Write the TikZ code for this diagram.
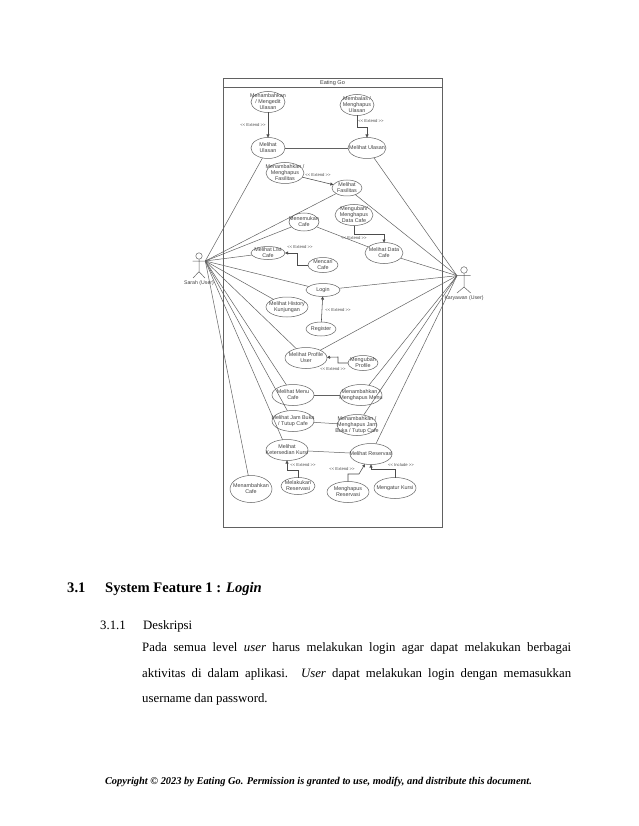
\documentclass[tikz,border=0pt]{standalone}
\usepackage{fontspec}
\setmainfont{Liberation Serif}
\newfontfamily\diagfont{Liberation Sans}
\usetikzlibrary{shapes.geometric,arrows.meta}
\definecolor{dline}{gray}{0.38}
\newcommand{\ctext}[1]{\smash{\makebox[0pt]{\raisebox{-1.4pt}{\begin{tabular}[c]{@{}c@{}}#1\end{tabular}}}}}
\newcommand{\ucase}[6]{\node[ucnode,minimum width=#4*2pt,minimum height=#5*2pt] (#1) at (#2,#3) {\ctext{#6}};}
\tikzset{
  ucnode/.style={ellipse,draw=dline,line width=0.5pt,inner sep=0pt,outer sep=0pt,text=black!75,font=\diagfont\fontsize{5.4}{6.3}\selectfont},
  assoc/.style={draw=dline,line width=0.5pt},
  dep/.style={draw=black!70,line width=0.55pt,-{Triangle[length=3pt,width=3pt]}},
  deplabel/.style={font=\diagfont\fontsize{4.2}{5}\selectfont,text=black!70,inner sep=0pt},
  actorlabel/.style={font=\diagfont\fontsize{5.2}{6}\selectfont,text=black!75,inner sep=0pt},
  actorline/.style={draw=dline,line width=0.5pt},
  bodytext/.style={inner sep=0pt,anchor=base west}
}
\begin{document}
\begin{tikzpicture}[x=1pt,y=-1pt]
\useasboundingbox (0,0) rectangle (638,826);
\fill[white] (0,0) rectangle (638,826);
% frame
\node[draw=dline,line width=0.6pt,minimum width=218.8pt,minimum height=449pt,inner sep=0pt,anchor=north west] (frame) at (223.2,78) {};
\coordinate (titleL) at (223.2,87);
\coordinate (titleR) at (442,87);
\draw[dline,line width=0.5pt] (titleL) -- (titleR);
\node[font=\diagfont\fontsize{5.6}{6.5}\selectfont,text=black!75,inner sep=0pt] (title) at (332.5,83) {Eating Go};
% use cases
\ucase{tulasan}{268}{102}{17}{10.5}{Menambahkan\\/ Mengedit\\Ulasan}
\ucase{bulasan}{357}{105}{17}{10.5}{Membalas /\\Menghapus\\Ulasan}
\ucase{ulasanL}{268}{148}{17}{10.5}{Melihat\\Ulasan}
\ucase{ulasanR}{367}{148}{19}{10.5}{Melihat Ulasan}
\ucase{tfasil}{285}{173}{19}{10.5}{Menambahkan /\\Menghapus\\Fasilitas}
\ucase{fasil}{347}{188}{15}{8}{Melihat\\Fasilitas}
\ucase{udata}{354}{215}{19}{10.5}{Mengubah/\\Menghapus\\Data Cafe}
\ucase{temu}{304}{222}{15}{9}{Menemukan\\Cafe}
\ucase{data}{384}{253}{19}{10.5}{Melihat Data\\Cafe}
\ucase{list}{268}{253}{17}{6.5}{Melihat List\\Cafe}
\ucase{cari}{323}{265}{15}{7.5}{Mencari\\Cafe}
\ucase{login}{323}{290}{17}{6.5}{Login}
\ucase{history}{287}{307}{21}{10}{Melihat History\\Kunjungan}
\ucase{register}{321}{329}{15}{7}{Register}
\ucase{profile}{306}{358}{21}{10.5}{Melihat Profile\\User}
\ucase{uprofile}{363}{363}{15}{7.5}{Mengubah\\Profile}
\ucase{menu}{293}{395}{21}{10.5}{Melihat Menu\\Cafe}
\ucase{tmenu}{361}{395}{21}{10.5}{Menambahkan /\\Menghapus Menu}
\ucase{jam}{293}{421}{21}{10.5}{Melihat Jam Buka\\/ Tutup Cafe}
\ucase{tjam}{357}{425}{20}{10.5}{Menambahkan /\\Menghapus Jam\\Buka / Tutup Cafe}
\ucase{kursi}{287}{450}{21}{10.5}{Melihat\\Ketersedian Kursi}
\ucase{reservasi}{371}{454}{21}{10.5}{Melihat Reservasi}
\ucase{tcafe}{251}{489}{21}{13.5}{Menambahkan\\Cafe}
\ucase{lakukan}{298}{486}{17}{8.5}{Melakukan\\Reservasi}
\ucase{hapus}{348}{492}{21}{10.5}{Menghapus\\Reservasi}
\ucase{atur}{395}{488}{21}{10.5}{Mengatur Kursi}
% actors
\coordinate (sarah) at (205.3,261);
\coordinate (karyawan) at (457,275.7);
\node[circle,draw=dline,line width=0.5pt,minimum size=6.4pt,inner sep=0pt] (sarahhead) at (199,256) {};
\coordinate (sarahArmL) at (192.7,261);
\coordinate (sarahHip) at (199,271.7);
\coordinate (sarahLegL) at (193,278);
\coordinate (sarahLegR) at (205,278);
\draw[actorline] (sarahhead) -- (sarahHip) (sarahArmL) -- (sarah) (sarahLegL) -- (sarahHip) -- (sarahLegR);
\node[actorlabel] (sarahlabel) at (199,283.5) {Sarah (User)};
\node[circle,draw=dline,line width=0.5pt,minimum size=6.6pt,inner sep=0pt] (karhead) at (464,270) {};
\coordinate (karArmR) at (470.7,275.7);
\coordinate (karHip) at (464,287);
\coordinate (karLegL) at (457,293);
\coordinate (karLegR) at (470.7,293);
\draw[actorline] (karhead) -- (karHip) (karyawan) -- (karArmR) (karLegL) -- (karHip) -- (karLegR);
\node[actorlabel] (karlabel) at (464,298) {Karyawan (User)};
% associations
\foreach \t in {ulasanL,fasil,temu,list,login,history,profile,menu,jam,kursi,tcafe}
  \draw[assoc] (sarah) -- (\t);
\foreach \t in {ulasanR,fasil,data,login,profile,tmenu,tjam,reservasi}
  \draw[assoc] (karyawan) -- (\t);
\draw[assoc] (ulasanL) -- (ulasanR);
\draw[assoc] (temu) -- (data);
\draw[assoc] (menu) -- (tmenu);
\draw[assoc] (jam) -- (tjam);
\draw[assoc] (kursi) -- (reservasi);
% dependencies
\coordinate (b1) at (357,127); \coordinate (b2) at (367,127);
\coordinate (d1) at (354,234); \coordinate (d2) at (384,234);
\coordinate (c1) at (297,265); \coordinate (c2) at (297,253);
\coordinate (p1) at (338,363); \coordinate (p2) at (338,357);
\coordinate (k1) at (298,470); \coordinate (k2) at (287,470);
\coordinate (h1) at (348,474); \coordinate (h2) at (359,474);
\coordinate (a1) at (395,469); \coordinate (a2) at (371,469);
\draw[dep] (tulasan) -- (ulasanL);
\draw[dep] (bulasan.south) -- (b1) -- (b2) -- (ulasanR.north);
\draw[dep] (tfasil) -- (fasil);
\draw[dep] (udata.south) -- (d1) -- (d2) -- (data.north);
\draw[dep] (cari.west) -- (c1) -- (c2) -- (list.east);
\draw[dep] (register) -- (login);
\draw[dep] (uprofile.west) -- (p1) -- (p2) -- (profile);
\draw[dep] (lakukan.north) -- (k1) -- (k2) -- (kursi.south);
\draw[dep] (hapus.north) -- (h1) -- (h2) -- (reservasi);
\draw[dep] (atur.north) -- (a1) -- (a2) -- (reservasi.south);
% labels
\node[deplabel] (e1) at (253,125) {<{}< Extend >{}>};
\node[deplabel] (e2) at (371,121) {<{}< Extend >{}>};
\node[deplabel] (e3) at (318,175) {<{}< Extend >{}>};
\node[deplabel] (e4) at (354,238) {<{}< Extend >{}>};
\node[deplabel] (e5) at (300,247) {<{}< Extend >{}>};
\node[deplabel] (e6) at (338,310) {<{}< Extend >{}>};
\node[deplabel] (e7) at (333,369) {<{}< Extend >{}>};
\node[deplabel] (e8) at (303,465) {<{}< Extend >{}>};
\node[deplabel] (e9) at (342,469) {<{}< Extend >{}>};
\node[deplabel] (e10) at (401,465) {<{}< Include >{}>};
% page text
\node[bodytext,font=\fontsize{14.6}{16}\selectfont\bfseries] (secnum) at (67,592) {3.1};
\node[bodytext,font=\fontsize{14.6}{16}\selectfont\bfseries] (sectitle) at (105,592) {System Feature 1 : \textit{Login}};
\node[bodytext,font=\fontsize{12.8}{15}\selectfont] (subnum) at (100,629) {3.1.1};
\node[bodytext,font=\fontsize{12.8}{15}\selectfont] (subtitle) at (143,629) {Deskripsi};
\node[inner sep=0pt,anchor=north west,text width=429pt,align=justify,font=\fontsize{12.8}{25.6}\selectfont] (para) at (142,642.5) {Pada semua level \textit{user} harus melakukan login agar dapat melakukan berbagai\linebreak aktivitas di dalam aplikasi. \textit{User} dapat melakukan login dengan memasukkan\linebreak username dan password.};
\node[inner sep=0pt,font=\fontsize{10.4}{13}\selectfont\bfseries\itshape] (copy) at (318.5,781.5) {Copyright © 2023 by Eating Go. Permission is granted to use, modify, and distribute this document.};
\end{tikzpicture}
\end{document}
